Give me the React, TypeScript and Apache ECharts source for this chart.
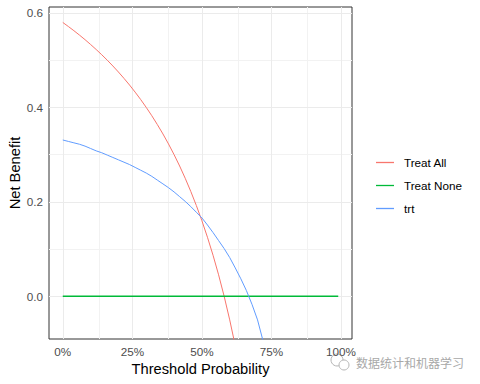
import React, { useEffect, useRef } from "react";
import * as echarts from "echarts";

const thresholds = [0, 0.02, 0.04, 0.06, 0.08, 0.1, 0.12, 0.14, 0.16, 0.18, 0.2, 0.22, 0.24, 0.26, 0.28, 0.3, 0.32, 0.34, 0.36, 0.38, 0.4, 0.42, 0.44, 0.46, 0.48, 0.5, 0.52, 0.54, 0.56, 0.58, 0.6, 0.62, 0.64, 0.66, 0.68, 0.7, 0.72];
const treatAll = [0.58, 0.5714, 0.5625, 0.5532, 0.5435, 0.5333, 0.5227, 0.5116, 0.5, 0.4878, 0.475, 0.4615, 0.4474, 0.4324, 0.4167, 0.4, 0.3824, 0.3636, 0.3438, 0.3226, 0.3, 0.2759, 0.25, 0.2222, 0.1923, 0.16, 0.125, 0.087, 0.0455, 0.0, -0.05, -0.105];
const trt = [0.331, 0.328, 0.325, 0.322, 0.318, 0.313, 0.308, 0.304, 0.299, 0.294, 0.289, 0.284, 0.279, 0.273, 0.267, 0.261, 0.254, 0.246, 0.238, 0.23, 0.221, 0.211, 0.201, 0.19, 0.178, 0.166, 0.151, 0.135, 0.118, 0.101, 0.082, 0.06, 0.037, 0.012, -0.017, -0.05, -0.095];
const treatNoneX = [0, 0.99];
const treatNoneY = [0, 0];
const xTicks = [0, 0.25, 0.5, 0.75, 1];
const xMinor = [0.125, 0.375, 0.625, 0.875];
const yTicks = [0, 0.2, 0.4, 0.6];
const yMinor = [0.1, 0.3, 0.5];
const seriesNames = ["Treat All", "Treat None", "trt"];

const FONT = "Liberation Sans, Arial, sans-serif";

export default function App() {
  const ref = useRef<HTMLDivElement>(null);
  useEffect(() => {
    if (!ref.current) return;
    const chart = echarts.init(ref.current, null, { renderer: "svg" });
    const gridLines = (vals: number[], key: "xAxis" | "yAxis") => vals.map((v) => ({ [key]: v }));
    chart.setOption({
      animation: false,
      backgroundColor: "#ffffff",
      textStyle: { fontFamily: FONT },
      grid: {
        left: 49,
        top: 7,
        width: 303,
        height: 332,
        show: true,
        borderColor: "#333333",
        borderWidth: 1,
        backgroundColor: "#ffffff",
        z: 0,
      },
      xAxis: {
        type: "value",
        min: -0.0495,
        max: 1.0395,
        splitLine: { show: false },
        axisLine: { show: false },
        axisTick: { show: true, length: 3, customValues: xTicks, lineStyle: { color: "#333333" } },
        axisLabel: {
          customValues: xTicks,
          formatter: (v: number) => Math.round(v * 100) + "%",
          color: "#4D4D4D",
          fontSize: 11.7,
          fontFamily: FONT,
          margin: 6,
        },
      },
      yAxis: {
        type: "value",
        min: -0.0905,
        max: 0.6127,
        splitLine: { show: false },
        axisLine: { show: false },
        axisTick: { show: true, length: 3, customValues: yTicks, lineStyle: { color: "#333333" } },
        axisLabel: {
          customValues: yTicks,
          formatter: (v: number) => v.toFixed(1),
          color: "#4D4D4D",
          fontSize: 11.7,
          fontFamily: FONT,
          margin: 6,
        },
      },
      legend: {
        data: seriesNames,
        orient: "vertical",
        left: 371,
        top: 146,
        itemWidth: 18,
        itemHeight: 1.3,
        itemGap: 0,
        icon: "rect",
        textStyle: { fontSize: 11.7, color: "#000000", fontFamily: FONT, lineHeight: 23, padding: [0, 0, 0, 5] },
      },
      graphic: [
        {
          type: "text",
          x: 200.5,
          y: 369,
          style: { text: "Threshold Probability", fontSize: 14.7, fill: "#000000", fontFamily: FONT, align: "center", verticalAlign: "middle" },
        },
        {
          type: "text",
          x: 15,
          y: 173,
          rotation: Math.PI / 2,
          style: { text: "Net Benefit", fontSize: 14.7, fill: "#000000", fontFamily: FONT, align: "center", verticalAlign: "middle" },
        },
        { type: "circle", shape: { cx: 337, cy: 360, r: 6 }, style: { fill: "none", stroke: "#b5b5b5", lineWidth: 1 } },
        { type: "circle", shape: { cx: 344, cy: 365, r: 5 }, style: { fill: "#ffffff", stroke: "#b5b5b5", lineWidth: 1 } },
        {
          type: "text",
          x: 356,
          y: 362,
          style: { text: "数据统计和机器学习", fontSize: 12, fill: "#a8a8a8", fontFamily: "Noto Sans CJK SC", verticalAlign: "middle" },
        },
      ],
      series: [
        {
          type: "line",
          name: "__grid",
          data: [],
          silent: true,
          z: 1,
          markLine: {
            silent: true,
            z: 1,
            symbol: ["none", "none"],
            label: { show: false },
            animation: false,
            lineStyle: { color: "#F2F2F2", width: 1, type: "solid" },
            data: [...gridLines(xMinor, "xAxis"), ...gridLines(yMinor, "yAxis")],
          },
        },
        {
          type: "line",
          name: "__gridMajor",
          data: [],
          silent: true,
          z: 1,
          markLine: {
            silent: true,
            z: 1,
            symbol: ["none", "none"],
            label: { show: false },
            animation: false,
            lineStyle: { color: "#EBEBEB", width: 1, type: "solid" },
            data: [...gridLines(xTicks, "xAxis"), ...gridLines(yTicks, "yAxis")],
          },
        },
        {
          type: "line",
          name: seriesNames[0],
          data: treatAll.map((v, i) => [thresholds[i], v]),
          showSymbol: false,
          symbol: "none",
          lineStyle: { color: "#F8766D", width: 1 },
          itemStyle: { color: "#F8766D" },
          z: 3,
        },
        {
          type: "line",
          name: seriesNames[1],
          data: treatNoneY.map((v, i) => [treatNoneX[i], v]),
          showSymbol: false,
          symbol: "none",
          lineStyle: { color: "#00BA38", width: 1.3 },
          itemStyle: { color: "#00BA38" },
          z: 3,
        },
        {
          type: "line",
          name: seriesNames[2],
          data: trt.map((v, i) => [thresholds[i], v]),
          showSymbol: false,
          symbol: "none",
          lineStyle: { color: "#619CFF", width: 1 },
          itemStyle: { color: "#619CFF" },
          z: 3,
        },
      ],
    });
    return () => chart.dispose();
  }, []);
  return <div ref={ref} style={{ position: "fixed", left: 0, top: 0, width: 480, height: 384 }} />;
}
